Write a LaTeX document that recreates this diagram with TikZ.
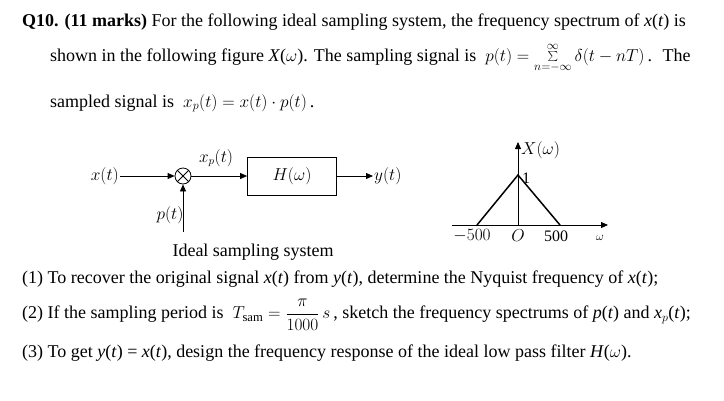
\documentclass[tikz,border=0pt]{standalone}
\usepackage{fontspec}
\setmainfont{Liberation Serif}
\usetikzlibrary{arrows.meta}
\begin{document}
\begin{tikzpicture}[x=1pt,y=-1pt,
  txt/.style={anchor=west,inner sep=0pt,font=\fontsize{18}{20}\selectfont},
  lbl/.style={inner sep=1pt,font=\fontsize{16}{18}\selectfont},
  arr/.style={-{Triangle[length=7pt,width=6pt]},line width=0.8pt},
  ln/.style={line width=0.8pt}]
\useasboundingbox (0,0) rectangle (724,400);
\node[txt] (l1) at (22,22) {\textbf{Q10. (11 marks)} For the following ideal sampling system, the frequency spectrum of \textit{x}(\textit{t}) is};
\node[txt] (l2) at (50,58) {shown in the following figure \textit{X}($\omega$). The sampling signal is \ $p(t)=\sum\limits_{n=-\infty}^{\infty}\delta(t-nT)$\,. \ The};
\node[txt] (l3) at (50,103) {sampled signal is \ $x_p(t)=x(t)\cdot p(t)$\,.};
% block diagram
\node[lbl,anchor=east] (x) at (120,176) {$x(t)$};
\node[circle,draw,line width=0.8pt,minimum size=16pt,inner sep=0pt] (m) at (183,176) {};
\draw[ln] (m.north west)--(m.south east) (m.north east)--(m.south west);
\node[draw,line width=0.8pt,minimum width=89pt,minimum height=38pt] (H) at (292,176) {\fontsize{16}{18}\selectfont$H(\omega)$};
\node[lbl,anchor=west] (y) at (373,176) {$y(t)$};
\node[lbl] (xp) at (216,158) {$x_p(t)$};
\node[lbl] (p) at (170,215) {$p(t)$};
\coordinate (pb) at (183,232);
\draw[arr] (x)--(m);
\draw[arr] (m)--(H);
\draw[arr] (H)--(y);
\draw[arr] (pb)--(m);
\node[lbl] (cap) at (253,252) {\fontsize{18}{20}\selectfont Ideal sampling system};
% spectrum
\coordinate (a0) at (452,225); \coordinate (a1) at (608,225);
\coordinate (v0) at (518,225); \coordinate (v1) at (518,142);
\draw[arr] (a0)--(a1);
\draw[arr] (v0)--(v1);
\coordinate (tl) at (477,225); \coordinate (tp) at (518,175); \coordinate (tr) at (560,225);
\draw[line width=1.5pt] (tl)--(tp)--(tr);
\node[lbl,anchor=west] (X) at (520,150) {$X(\omega)$};
\node[lbl,anchor=west] (one) at (521,178) {1};
\node[lbl] (m5) at (472,236) {$-500$};
\node[lbl] (o) at (518,236) {$O$};
\node[lbl] (p5) at (556,236) {500};
\node[lbl] (w) at (600,238) {\fontsize{12}{13}\selectfont$\omega$};
% questions
\node[txt] (q1) at (22,279) {(1) To recover the original signal \textit{x}(\textit{t}) from \textit{y}(\textit{t}), determine the Nyquist frequency of \textit{x}(\textit{t});};
\node[txt] (q2) at (22,315) {(2) If the sampling period is \ $T_{\mathrm{sam}}=\displaystyle\frac{\pi}{1000}\,s$\,, sketch the frequency spectrums of \textit{p}(\textit{t}) and \textit{x}$_p$(\textit{t});};
\node[txt] (q3) at (22,353) {(3) To get \textit{y}(\textit{t}) = \textit{x}(\textit{t}), design the frequency response of the ideal low pass filter \textit{H}($\omega$).};
\end{tikzpicture}
\end{document}
